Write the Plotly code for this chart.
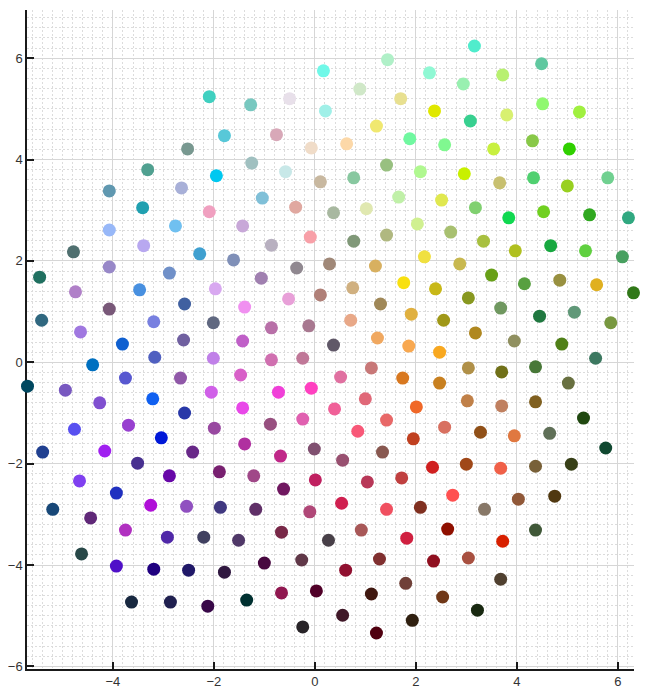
import plotly.graph_objects as go

x_vals = [
 3.16, 1.44, 0.17, 2.27, 4.49, 3.72, 2.94, 0.89, -0.50, -1.27,
 -2.09, 1.70, 2.37, 0.21, 3.08, 3.80, 4.51, 5.24, 1.22, 1.88,
 -1.79, -0.76, -0.07, 0.63, 2.57, 3.54, 4.31, 5.04, -2.52, -3.31,
 -1.95, -1.25, -0.58, 1.42, 2.09, 0.11, 0.77, 2.96, 3.66, 4.33,
 5.00, 5.80, -4.07, -2.64, -3.41, -2.09, -1.04, -0.38, 0.37, 1.02,
 1.66, 2.03, 2.51, 3.18, 3.84, 4.53, 5.44, 6.21, -4.07, -2.76,
 -3.39, -4.78, -2.28, -1.43, -0.86, -0.09, 0.77, 1.42, 2.69, 3.34,
 3.97, 4.67, 5.36, 6.09, -5.45, -4.07, -2.88, -1.61, -0.36, 0.29,
 1.20, 2.17, 2.87, 3.50, 4.15, 4.85, 5.58, 6.31, -4.74, -3.47,
 -2.58, -1.97, -1.06, -0.52, 0.11, 0.75, 1.30, 1.76, 2.39, 3.04,
 3.68, 4.45, 5.14, 5.86, -5.41, -4.64, -4.07, -3.19, -2.01, -0.86,
 -1.39, -0.12, 0.71, 1.24, 1.86, 3.18, 3.95, 4.89, 2.55, -3.81,
 -2.60, -3.17, -2.01, -4.40, -5.69, -4.94, -3.75, -2.66, -2.05, -4.26,
 -3.21, -2.58, -4.76, -3.69, -1.99, -3.04, -5.39, -4.16, -2.42, -3.51,
 -4.66, -2.88, -1.89, -3.93, -5.19, -3.25, -2.54, -1.87, -4.44, -3.75,
 -2.92, -2.20, -4.62, -3.93, -3.19, -2.50, -1.79, -3.63, -2.86, -2.12,
 -1.17, -0.10, 0.53, 1.42, 2.09, -1.51, -0.66, 0.27, 0.92, 1.82,
 -1.00, -0.26, 0.61, 1.28, 2.35, -1.35, -0.66, 0.03, 1.12, 1.80,
 0.55, -0.24, 1.22, 1.93, 3.36, 2.63, 3.72, 4.37, 3.04, 3.68,
 2.53, 3.22, 4.03, 2.47, 3.04, 3.70, 4.37, 5.56, 2.47, 5.02,
 3.02, 3.70, 4.37, 5.32, 2.57, 3.28, 3.95, 4.65, 5.76, 2.33,
 3.00, 3.68, 4.37, 5.08, 2.73, 4.75, -1.43, 0.37, -0.86, -0.24,
 1.12, -1.47, 0.51, 1.74, -0.72, -0.07, 1.00, -1.43, 0.39, 2.01,
 -0.88, -0.24, 1.42, 0.85, -1.39, -0.01, 1.95, -0.68, 0.55, 1.34,
 -1.21, -0.62, 0.01, 1.04, 1.72, 1.91,
]

y_vals = [
 6.24, 5.97, 5.75, 5.71, 5.89, 5.67, 5.49, 5.39, 5.20, 5.08,
 5.24, 5.20, 4.96, 4.96, 4.76, 4.88, 5.10, 4.94, 4.66, 4.41,
 4.47, 4.49, 4.23, 4.31, 4.29, 4.21, 4.37, 4.21, 4.21, 3.80,
 3.68, 3.93, 3.76, 3.89, 3.76, 3.56, 3.64, 3.72, 3.54, 3.64,
 3.48, 3.64, 3.38, 3.44, 3.05, 2.97, 3.24, 3.06, 2.95, 3.03,
 3.26, 2.73, 3.20, 3.05, 2.85, 2.97, 2.91, 2.85, 2.61, 2.69,
 2.30, 2.18, 2.14, 2.69, 2.31, 2.47, 2.39, 2.51, 2.57, 2.39,
 2.20, 2.30, 2.20, 2.08, 1.68, 1.88, 1.76, 2.02, 1.86, 1.94,
 1.90, 2.08, 1.94, 1.72, 1.55, 1.62, 1.53, 1.37, 1.39, 1.43,
 1.15, 1.45, 1.66, 1.25, 1.33, 1.47, 1.15, 1.57, 1.45, 1.27,
 1.07, 0.91, 0.99, 0.78, 0.83, 0.60, 1.05, 0.80, 0.78, 0.68,
 1.09, 0.72, 0.83, 0.48, 0.32, 0.58, 0.42, 0.36, 0.83, 0.36,
 0.44, 0.10, 0.08, -0.05, -0.47, -0.55, -0.31, -0.31, -0.59, -0.80,
 -0.72, -1.00, -1.32, -1.24, -1.30, -1.49, -1.77, -1.75, -1.77, -1.99,
 -2.34, -2.24, -2.16, -2.58, -2.90, -2.82, -2.84, -2.86, -3.07, -3.31,
 -3.45, -3.45, -3.78, -4.02, -4.08, -4.10, -4.14, -4.73, -4.73, -4.81,
 -2.90, -2.95, -2.78, -2.90, -2.86, -3.51, -3.35, -3.51, -3.31, -3.47,
 -3.96, -3.90, -4.10, -3.88, -3.92, -4.69, -4.55, -4.51, -4.57, -4.36,
 -4.99, -5.22, -5.34, -5.09, -2.90, -3.29, -3.53, -3.31, -3.86, -4.28,
 -4.63, -4.89, -2.70, 0.20, -0.11, -0.19, -0.09, 0.08, -0.41, -0.41,
 -0.76, -0.86, -0.78, -1.10, -1.28, -1.38, -1.45, -1.40, -1.69, -2.07,
 -2.01, -2.09, -2.05, -2.01, -2.62, -2.64, 0.42, 0.34, 0.05, 0.08,
 -0.11, -0.25, -0.29, -0.31, -0.59, -0.51, -0.72, -0.90, -0.92, -0.88,
 -1.22, -1.12, -1.14, -1.36, -1.61, -1.71, -1.51, -1.85, -1.93, -1.77,
 -2.24, -2.50, -2.32, -2.36, -2.28, 0.95,
]

colors = [
 "#50eccc", "#b0f0c8", "#70f8e8", "#90f8d4", "#60c8a0", "#b8f070", "#98f0b0", "#d0e8c8", "#e8e0ea", "#78c8c0",
 "#40d0c0", "#e8e090", "#e0e800", "#a0f0e8", "#38d090", "#d8f070", "#90f870", "#a0f040", "#f0e870", "#70f8a0",
 "#58c8d8", "#d8a8b8", "#f0dcc8", "#fcd8a8", "#80f890", "#c8f040", "#88c848", "#30d000", "#789890", "#50a090",
 "#00c8f0", "#a0c0c0", "#c8e8e8", "#98c080", "#b0f890", "#c8b8a0", "#88c8a0", "#c8f000", "#c8c070", "#50d070",
 "#98d020", "#70d090", "#6098b0", "#a8b0d8", "#20a0b0", "#f0a0c0", "#80c0d8", "#e0a8a0", "#a8b8a0", "#e0e8b0",
 "#c0f0a8", "#d0f090", "#e0e850", "#80d070", "#10d850", "#70d020", "#30a820", "#30a880", "#98b8f8", "#70c0f0",
 "#b8a8f0", "#507070", "#40a0d0", "#c8a8d8", "#b8b0c0", "#f8a0a8", "#809878", "#b0b880", "#a8c070", "#a8c040",
 "#b0c020", "#18a840", "#60d040", "#48a060", "#207060", "#9888c8", "#7090c8", "#8090b8", "#908890", "#a08878",
 "#d8b060", "#f0e040", "#c8b850", "#68a018", "#58a040", "#989040", "#e0b020", "#307818", "#b080c8", "#4890e0",
 "#4060a0", "#d8a8f0", "#a080b0", "#e8a0d8", "#b08078", "#d0b080", "#a08858", "#f8e010", "#c8b818", "#889820",
 "#709860", "#207840", "#609878", "#789840", "#306880", "#a078e0", "#785878", "#7880e0", "#606880", "#b870a8",
 "#f090f0", "#a87890", "#e8a888", "#f0a860", "#f8a850", "#b08820", "#909060", "#508018", "#a09818", "#1060d0",
 "#7060a0", "#5060c0", "#c080e8", "#0070c0", "#004860", "#7858c0", "#5858d0", "#9058a8", "#d060e8", "#8050d0",
 "#1060f0", "#2838a8", "#5850f0", "#9840d0", "#9848a0", "#0018d8", "#204090", "#a020f0", "#682888", "#483090",
 "#8040f0", "#6808a8", "#782070", "#2030c0", "#184878", "#b010d8", "#9050c0", "#403880", "#602878", "#b030c0",
 "#5028a8", "#404060", "#284848", "#5010c8", "#200080", "#201868", "#301840", "#182840", "#202050", "#380848",
 "#603068", "#b04878", "#d02050", "#f05060", "#803020", "#503868", "#782848", "#484048", "#a85858", "#d02040",
 "#480840", "#603848", "#901030", "#803030", "#901020", "#003030", "#901850", "#500028", "#401810", "#704038",
 "#401828", "#282428", "#500010", "#302010", "#887868", "#901000", "#d82000", "#405838", "#a85040", "#504030",
 "#703818", "#182810", "#905838", "#f8a820", "#b09048", "#707018", "#487838", "#3c7860", "#c88020", "#687040",
 "#c08048", "#c08060", "#806020", "#204810", "#d87060", "#905018", "#e07840", "#607058", "#104830", "#d02020",
 "#a04818", "#f06048", "#786038", "#384018", "#ff5050", "#503810", "#c060c8", "#605868", "#d070b0", "#c07898",
 "#c87878", "#d860c8", "#e070a0", "#d87820", "#f040d8", "#ff40c0", "#e06878", "#e848e8", "#f06098", "#f06828",
 "#985080", "#e060b0", "#e86868", "#f85878", "#b030a0", "#805070", "#c04020", "#c02888", "#985070", "#885850",
 "#a04888", "#701860", "#c02060", "#b83858", "#c04040", "#e0b040",
]

x_ticks = [-4, -2, 0, 2, 4, 6]
y_ticks = [-6, -4, -2, 0, 2, 4, 6]

fig = go.Figure(
    go.Scatter(
        x=x_vals, y=y_vals, mode="markers",
        marker=dict(size=13, color=colors, line=dict(width=0), opacity=1),
        cliponaxis=False, hoverinfo="skip",
    )
)

axis_common = dict(
    showline=True, linecolor="#1a1a1a", linewidth=1.5,
    ticks="inside", ticklen=7, tickwidth=1.5, tickcolor="#1a1a1a",
    showgrid=True, gridcolor="#d6d6d6", gridwidth=1,
    zeroline=False, mirror=False, automargin=False, layer="below traces",
    tickfont=dict(family="Liberation Sans, Arial, sans-serif", size=13, color="#333333"),
    minor=dict(dtick=0.2, showgrid=True, gridcolor="#dcdcdc", gridwidth=1, griddash="2px,2px", ticks=""),
)

fig.update_layout(
    width=644, height=691,
    margin=dict(l=19, r=18, t=2, b=30),
    paper_bgcolor="white", plot_bgcolor="white",
    showlegend=False,
    xaxis=dict(range=[-5.70, 6.32], tickvals=x_ticks, **axis_common),
    yaxis=dict(range=[-6.05, 6.95], tickvals=y_ticks, **axis_common),
)

fig.write_html("out.html")
